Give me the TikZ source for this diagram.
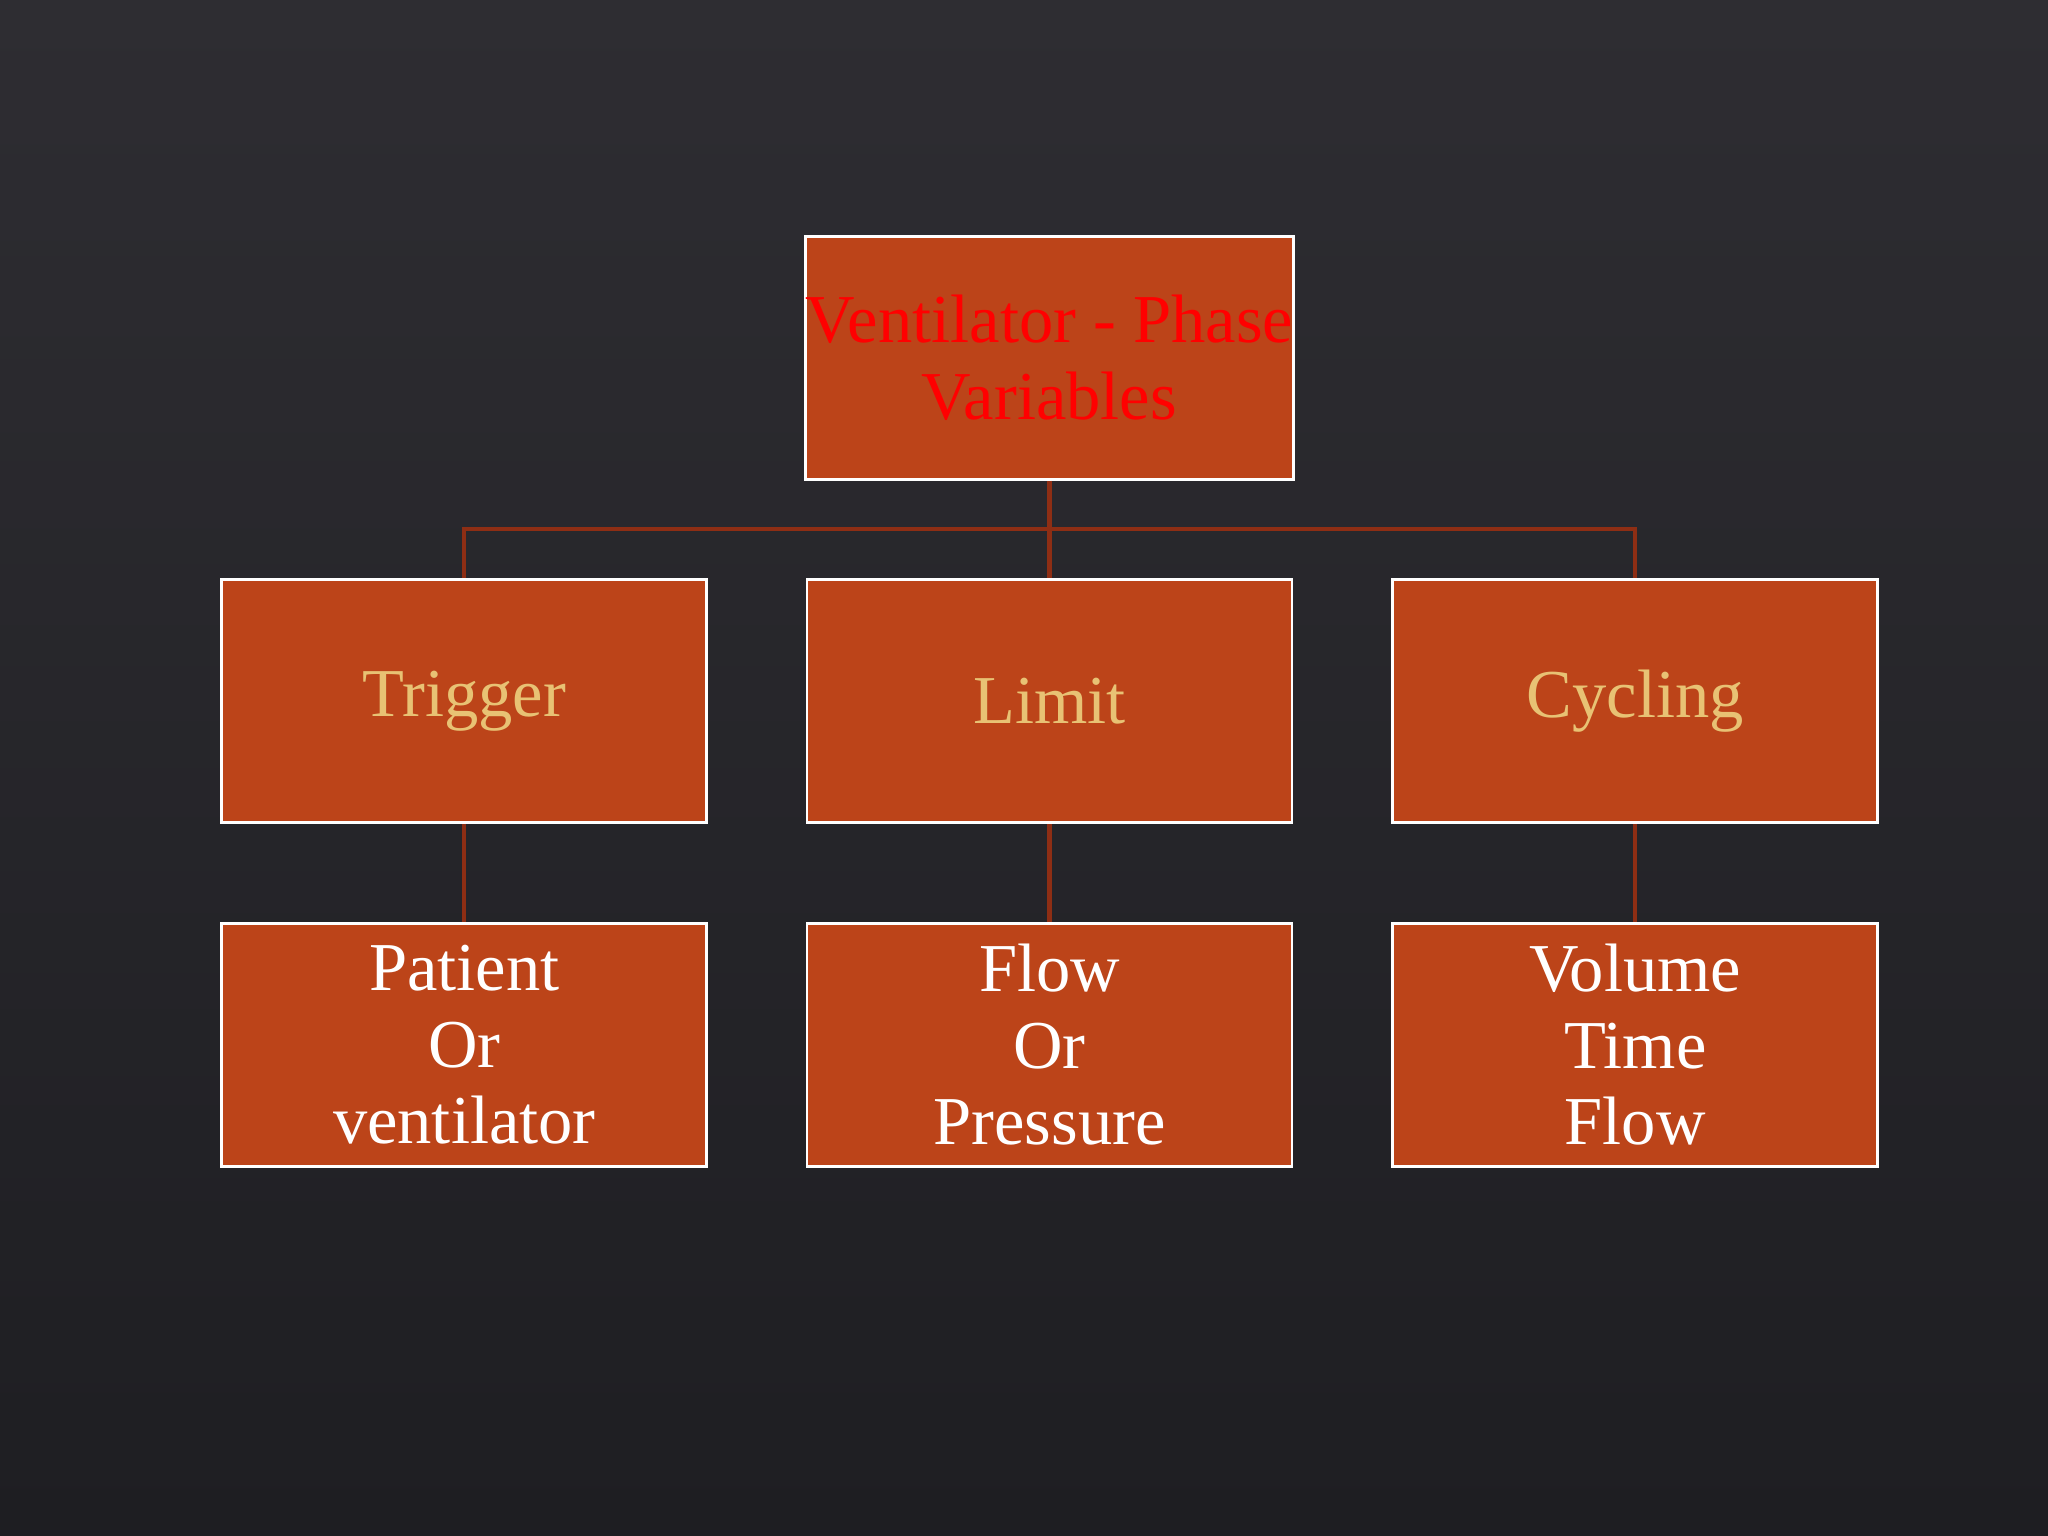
\documentclass[tikz,border=0pt]{standalone}
\usepackage{fontspec}
\setmainfont{Liberation Serif}
\usetikzlibrary{positioning}
\definecolor{boxfill}{HTML}{BC4419}
\definecolor{linkred}{HTML}{8E2E14}
\definecolor{gold}{HTML}{E8C274}
\definecolor{bgtop}{HTML}{2E2D32}
\definecolor{bgbot}{HTML}{1E1E22}
\tikzset{
  vbox/.style={draw=white, thick, fill=boxfill, minimum width=4.85cm, minimum height=2.43cm,
    inner sep=0pt, align=center, font=\fontsize{19.5}{21.8}\selectfont},
  link/.style={draw=linkred, line width=1.2pt}
}
\begin{document}
\begin{tikzpicture}[x=0.013061cm, y=-0.013061cm]
  % background
  \shade[top color=bgtop, bottom color=bgbot] (0,0) rectangle (1568,1176);
  \useasboundingbox (0,0) rectangle (1568,1176);

  \node[vbox, text=red] (top) at (803.5,274) {Ventilator - Phase\\Variables};

  \node[vbox, text=gold] (trig) at (355.5,537) {Trigger};
  \node[vbox, text=gold] (lim) at (803.5,537) {Limit};
  \node[vbox, text=gold] (cyc) at (1252,537) {Cycling};

  \node[vbox, text=white] (pat) at (355.5,800) {Patient\\Or\\ventilator};
  \node[vbox, text=white] (flow) at (803.5,800) {Flow\\Or\\Pressure};
  \node[vbox, text=white] (vol) at (1252,800) {Volume\\Time\\Flow};

  \coordinate (split) at (803.5,405);

  \begin{scope}[on background layer/.try]
  \end{scope}
  \draw[link] (top) -- (split);
  \draw[link] (split) -| (trig);
  \draw[link] (split) -| (cyc);
  \draw[link] (split) -- (lim);
  \draw[link] (trig) -- (pat);
  \draw[link] (lim) -- (flow);
  \draw[link] (cyc) -- (vol);
\end{tikzpicture}
\end{document}
